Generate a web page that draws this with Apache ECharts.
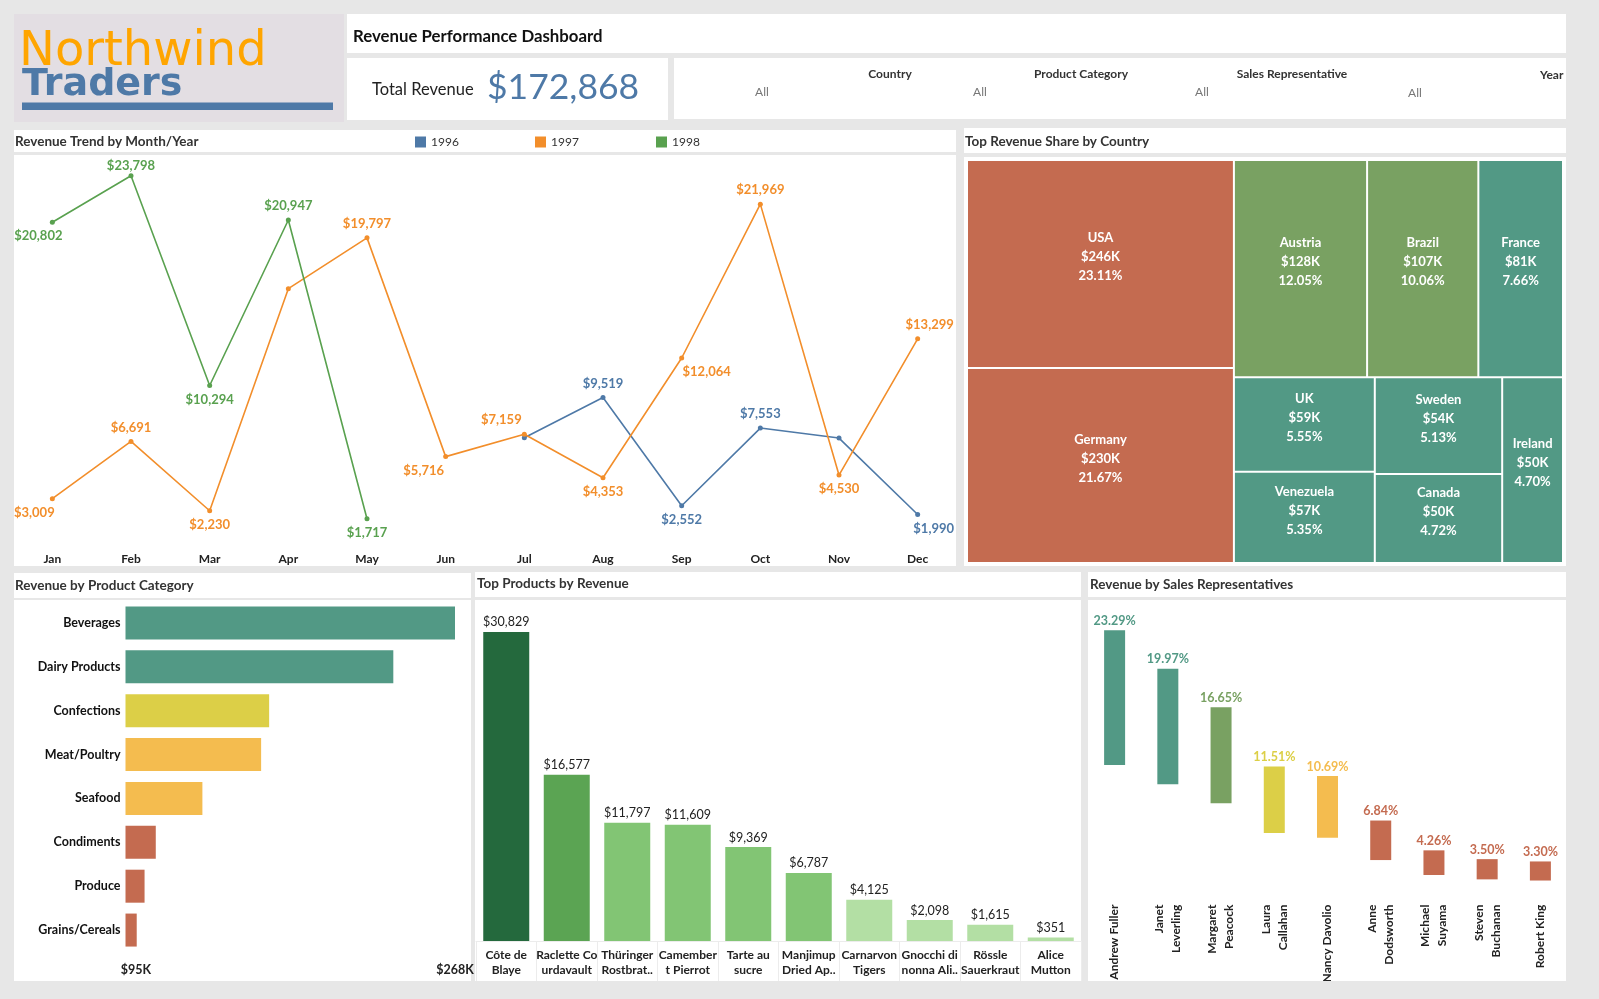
<!DOCTYPE html>
<html><head><meta charset="utf-8">
<script src="https://cdn.jsdelivr.net/npm/echarts@6/dist/echarts.min.js"></script>
<style>html,body{margin:0;padding:0;background:#e7e7e7;overflow:hidden}#c{width:1599px;height:999px}</style>
</head><body><div id="c"></div>
<script>
// ---------------- data ----------------
const months = ['Jan','Feb','Mar','Apr','May','Jun','Jul','Aug','Sep','Oct','Nov','Dec'];
const years = ['1996','1997','1998'];
const rev1996 = [null,null,null,null,null,null,6930,9519,2552,7553,6910,1990];
const rev1997 = [3009,6691,2230,16525,19797,5716,7159,4353,12064,21969,4530,13299];
const rev1998 = [20802,23798,10294,20947,1717,null,null,null,null,null,null,null];

const countries = ['USA','Germany','Austria','Brazil','France','UK','Venezuela','Sweden','Canada','Ireland'];
const countryRevenue = [245585,230285,128004,106926,81358,58971,56811,54495,50196,49980];

const categories = ['Beverages','Dairy Products','Confections','Meat/Poultry','Seafood','Condiments','Produce','Grains/Cereals'];
const categoryRevenue = [267868,234507,167357,163022,131261,106047,99985,95744];
const categoryTickValues = [95300,267868];

const products = ['Côte de\nBlaye','Raclette Co\nurdavault','Thüringer\nRostbrat..','Camember\nt Pierrot','Tarte au\nsucre','Manjimup\nDried Ap..','Carnarvon\nTigers','Gnocchi di\nnonna Ali..','Rössle\nSauerkraut','Alice\nMutton'];
const productRevenue = [30829,16577,11797,11609,9369,6787,4125,2098,1615,351];

const reps = ['Andrew Fuller','Janet Leverling','Margaret Peacock','Laura Callahan','Nancy Davolio','Anne Dodsworth','Michael Suyama','Steven Buchanan','Robert King'];
const repShare = [23.29,19.97,16.65,11.51,10.69,6.84,4.26,3.50,3.30];

// ---------------- styles ----------------
const TEAL='#529985', OLIVE='#79a162', YEL='#dccf47', GOLD='#f4bc4f', RED='#c46b50';
const lineColors = ['#4e79a7','#f28e2b','#59a14f'];
const countryColors = [RED,RED,OLIVE,OLIVE,TEAL,TEAL,TEAL,TEAL,TEAL,TEAL];
const categoryColors = [TEAL,TEAL,YEL,GOLD,GOLD,RED,RED,RED];
const productColors = ['#24693d','#5ba453','#82c574','#82c574','#82c574','#82c574','#b3dfa4','#b3dfa4','#b3dfa4','#b3dfa4'];
const repColors = [TEAL,TEAL,OLIVE,YEL,GOLD,RED,RED,RED,RED];
// label placement per point (style only)
const labelPos = [
  {pos:['','','','','','','none','top','bottom','top','none','bottom'], dx:[0,0,0,0,0,0,0,0,0,0,0,16], dy:[]},
  {pos:['bottom','top','bottom','none','top','bottom','top','bottom','bottom','top','bottom','top'], dx:[-18,0,0,0,0,-22,-23,0,25,0,0,12], dy:[]},
  {pos:['bottom','top','bottom','top','bottom','','','','','','',''], dx:[-14,0,0,0,0,0,0,0,0,0,0,0], dy:[0,4.5]}
];
const FONT = 'Lato';
const fmtMoney = v => '$' + Math.round(v).toLocaleString('en-US');

function lineSeriesData(vals, lp){
  return vals.map((v,i)=> v==null ? '-' : {
    value: v,
    label: {show: lp.pos[i] !== 'none', position: lp.pos[i], offset: [lp.dx[i]||0, lp.dy[i]||0]}
  });
}

// ---------------- graphic (panels + static text) ----------------
function panel(x,y,w,h,fill){ return {type:'rect', z:-10, shape:{x,y,width:w,height:h}, style:{fill: fill||'#fff'}, silent:true}; }
function txt(t,x,y,size,weight,color,align,family){
  return {type:'text', z:5, x, y, silent:true, style:{text:t, fontSize:size, fontWeight:weight||'normal', fontFamily:family||FONT, fill:color||'#333', align:align||'left', verticalAlign:'middle'}};
}
const graphics = [
  panel(14,14,330,108,'#e3dee3'),
  panel(347,14,1219,39),
  panel(347,58,321,62),
  panel(674,58,892,61),
  panel(14,130,942,22), panel(14,155,942,411),
  panel(964,128,602,25), panel(964,157,602,409),
  panel(14,573,457,25), panel(14,600,457,381),
  panel(475,572,606,25), panel(475,600,606,381),
  panel(1088,572,478,25), panel(1088,600,478,381),
  {type:'rect', z:-5, shape:{x:22,y:102.5,width:311,height:7.5}, style:{fill:'#4e79a7'}, silent:true},
  txt('Northwind',19,53,48,'normal','#ffa500','left','DejaVu Sans'),
  txt('Traders',22,85.5,38,'bold','#4e79a7','left','DejaVu Sans'),
  txt('Revenue Performance Dashboard',353,36.5,16.8,'bold','#111'),
  txt('Total Revenue',372,89.5,16.5,'normal','#222'),
  txt('$172,868',487,88,35.5,'normal','#4e79a7'),
  txt('Country',890,74,12,'bold','#333','center'),
  txt('Product Category',1081,74,12,'bold','#333','center'),
  txt('Sales Representative',1292,74,12,'bold','#333','center'),
  txt('Year',1540,75,12,'bold','#333','left'),
  txt('All',762,92,12,'normal','#777','center'),
  txt('All',980,92,12,'normal','#777','center'),
  txt('All',1202,92,12,'normal','#777','center'),
  txt('All',1415,93,12,'normal','#777','center'),
  txt('Revenue Trend by Month/Year',15,142,13.5,'bold','#333'),
  txt('Top Revenue Share by Country',965,141.5,13.5,'bold','#333'),
  txt('Revenue by Product Category',15,585.5,13.5,'bold','#333'),
  txt('Top Products by Revenue',477,584,13.5,'bold','#333'),
  txt('Revenue by Sales Representatives',1090,584.5,13.5,'bold','#333'),
  {type:'rect', z:100, shape:{x:0,y:981,width:1599,height:18}, style:{fill:'#e7e7e7'}, silent:true}
];

const countryTotal = countryRevenue.reduce((a,b)=>a+b,0);

const option = {
  animation:false,
  backgroundColor:'#e7e7e7',
  textStyle:{fontFamily:FONT},
  graphic: graphics,
  legend: years.map((y,i)=>({
    data:[y], left:[415,535,656][i], top:136, icon:'rect', itemWidth:11, itemHeight:11,
    padding:0, selectedMode:false, textStyle:{fontSize:12, color:'#333', fontFamily:FONT}
  })),
  grid: [
    {left:13, top:157.05, width:944, height:388.35},
    {left:125.5, top:601, width:329.5, height:351},
    {left:476, top:610.2, width:605, height:330.8},
    {left:1088, top:610.6, width:479, height:289}
  ],
  xAxis: [
    {gridIndex:0, type:'category', data:months, axisLine:{show:false}, axisTick:{show:false},
     axisLabel:{fontSize:12, fontWeight:'bold', color:'#222', margin:8, fontFamily:FONT}},
    {gridIndex:1, type:'value', min:89675, max:267868, splitLine:{show:false}, axisLine:{show:false}, axisTick:{show:false},
     axisLabel:{customValues:categoryTickValues, formatter:v=>'$'+Math.round(v/1000)+'K', fontSize:12.5, fontWeight:'bold', color:'#222', margin:11, fontFamily:FONT}},
    {gridIndex:2, type:'category', data:products, axisLine:{lineStyle:{color:'#ececec'}},
     axisTick:{show:true, length:40, lineStyle:{color:'#ececec'}},
     axisLabel:{interval:0, fontSize:12, fontWeight:'bold', color:'#222', margin:7, lineHeight:15, fontFamily:FONT}},
    {gridIndex:3, type:'category', data:reps, axisLine:{show:false}, axisTick:{show:false},
     axisLabel:{interval:0, rotate:90, fontSize:12, fontWeight:'bold', color:'#222', margin:5, lineHeight:17, fontFamily:FONT,
       formatter: n => n.length >= 14 ? n.replace(' ', '\n') : n}}
  ],
  yAxis: [
    {gridIndex:0, type:'value', min:0, max:25000, show:false},
    {gridIndex:1, type:'category', data:categories, inverse:true, axisLine:{show:false}, axisTick:{show:false},
     axisLabel:{fontSize:12.5, fontWeight:'bold', color:'#111', margin:5, fontFamily:FONT}},
    {gridIndex:2, type:'value', min:0, max:33000, show:false},
    {gridIndex:3, type:'value', min:0, max:50, show:false}
  ],
  series: [
    ...[rev1996, rev1997, rev1998].map((vals,i)=>({
      type:'line', name:years[i], xAxisIndex:0, yAxisIndex:0, data: lineSeriesData(vals, labelPos[i]),
      color: lineColors[i], symbol:'circle', symbolSize:5, lineStyle:{width:1.6, color:lineColors[i]},
      itemStyle:{color:lineColors[i]},
      label:{show:true, distance:5, formatter:p=>fmtMoney(p.value), color:lineColors[i], fontSize:13, fontWeight:'bold', fontFamily:FONT},
      z: 3 + i
    })),
    {type:'treemap', left:968, top:161, width:594, height:401, roam:false, nodeClick:false,
     breadcrumb:{show:false}, sort:'desc',
     itemStyle:{borderWidth:0, gapWidth:2, borderColor:'#fff'},
     label:{show:true, position:'inside', offset:[0,-7], align:'center', verticalAlign:'middle', color:'#fff', fontSize:13, fontWeight:'bold', lineHeight:19, fontFamily:FONT, overflow:'none',
       formatter: p => p.name + '\n$' + Math.round(p.value/1000) + 'K\n' + (p.value/countryTotal*100).toFixed(2) + '%'},
     data: countries.map((c,i)=>({name:c, value:countryRevenue[i], itemStyle:{color:countryColors[i]}}))
    },
    {type:'bar', xAxisIndex:1, yAxisIndex:1, barWidth:33,
     data: categoryRevenue.map((v,i)=>({value:v, itemStyle:{color:categoryColors[i]}}))},
    {type:'bar', xAxisIndex:2, yAxisIndex:2, barWidth:46,
     label:{show:true, position:'top', distance:3, formatter:p=>fmtMoney(p.value), fontSize:12.5, color:'#222', fontFamily:FONT},
     data: productRevenue.map((v,i)=>({value:v, itemStyle:{color:productColors[i]}}))},
    {type:'bar', xAxisIndex:3, yAxisIndex:3, stack:'rep', barWidth:21, silent:true,
     itemStyle:{color:'transparent'}, data: repShare.slice()},
    {type:'bar', xAxisIndex:3, yAxisIndex:3, stack:'rep', barWidth:21,
     data: repShare.map((v,i)=>({value:v, itemStyle:{color:repColors[i]},
       label:{show:true, position:'top', distance:3, formatter:p=>p.value.toFixed(2)+'%', color:repColors[i], fontSize:12.5, fontWeight:'bold', fontFamily:FONT}}))}
  ]
};
const chart = echarts.init(document.getElementById('c'), null, {renderer:'canvas'});
chart.setOption(option);
</script>
</body></html>
